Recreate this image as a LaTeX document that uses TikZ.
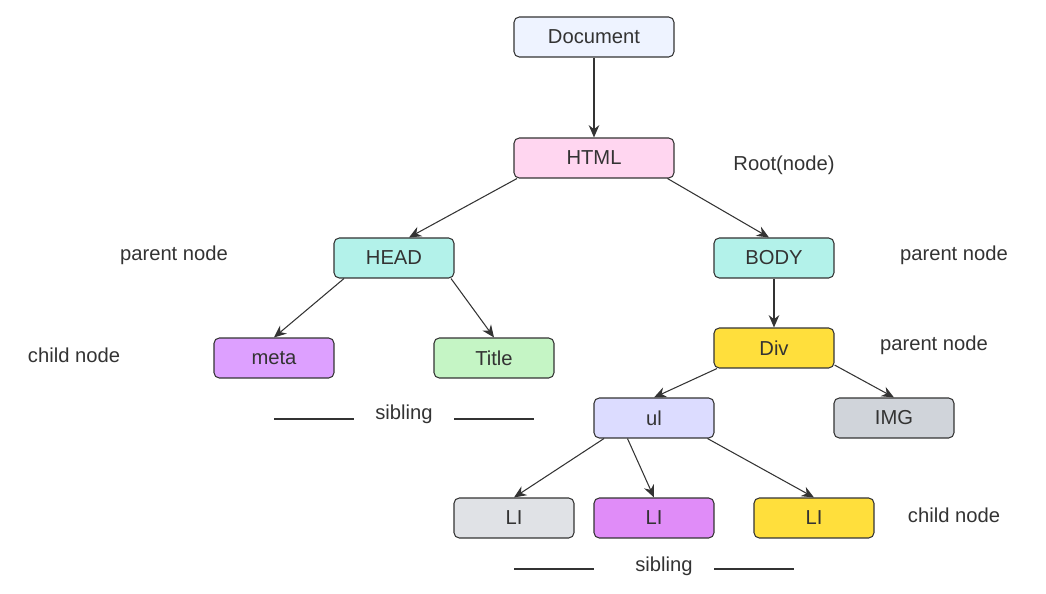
\documentclass[tikz,border=0pt]{standalone}
\usepackage{fontspec}
\setmainfont{Liberation Sans}
\usetikzlibrary{arrows.meta}
\definecolor{cdoc}{HTML}{EEF3FF}
\definecolor{chtml}{HTML}{FFD6F0}
\definecolor{cteal}{HTML}{B3F2EA}
\definecolor{cmeta}{HTML}{DDA0FF}
\definecolor{ctitle}{HTML}{C5F5C5}
\definecolor{cyel}{HTML}{FFDF3C}
\definecolor{cul}{HTML}{DCDCFF}
\definecolor{cimg}{HTML}{D0D4DA}
\definecolor{cli}{HTML}{E0E2E6}
\definecolor{clip}{HTML}{E08CF8}
\definecolor{ctxt}{HTML}{333333}
\begin{document}
\begin{tikzpicture}[x=0.02cm,y=-0.02cm,
  box/.style={draw=ctxt,line width=0.6pt,rounded corners=3pt,minimum width=2.4cm,minimum height=0.8cm,inner sep=0pt,text=ctxt,font=\fontsize{11.5}{13}\selectfont},
  lab/.style={text=ctxt,font=\fontsize{11.5}{13}\selectfont},
  arr/.style={draw=ctxt,line width=0.6pt,-{Stealth[length=7pt,width=6pt]}},
  sep/.style={draw=ctxt,line width=0.6pt}]
\useasboundingbox (0,0) rectangle (1046,594);
\node[box,fill=cdoc,minimum width=3.2cm] (doc) at (594,37) {Document};
\node[box,fill=chtml,minimum width=3.2cm] (html) at (594,158) {HTML};
\node[box,fill=cteal] (head) at (394,258) {HEAD};
\node[box,fill=cteal] (body) at (774,258) {BODY};
\node[box,fill=cmeta] (meta) at (274,358) {meta};
\node[box,fill=ctitle] (title) at (494,358) {Title};
\node[box,fill=cyel] (div) at (774,348) {Div};
\node[box,fill=cul] (ul) at (654,418) {ul};
\node[box,fill=cimg] (img) at (894,418) {IMG};
\node[box,fill=cli] (li1) at (514,518) {LI};
\node[box,fill=clip] (li2) at (654,518) {LI};
\node[box,fill=cyel] (li3) at (814,518) {LI};
\draw[arr] (doc.south) -- (html.north);
\draw[arr] ([xshift=2pt]html.south west) -- ([xshift=0.3cm]head.north);
\draw[arr] ([xshift=-4pt]html.south east) -- ([xshift=-0.1cm]body.north);
\draw[arr] ([xshift=6pt]head.south west) -- (meta.north);
\draw[arr] ([xshift=-2pt]head.south east) -- (title.north);
\draw[arr] (body.south) -- (div.north);
\draw[arr] ([xshift=2pt]div.south west) -- (ul.north);
\draw[arr] ([yshift=2pt]div.south east) -- (img.north);
\draw[arr] ([xshift=6pt]ul.south west) -- (li1.north);
\draw[arr] ([xshift=0.68cm]ul.south west) -- (li2.north);
\draw[arr] ([xshift=-4pt]ul.south east) -- (li3.north);
\node[lab] (r) at (784,165) {Root(node)};
\node[lab] (p1) at (174,255) {parent node};
\node[lab] (p2) at (954,255) {parent node};
\node[lab] (p3) at (934,345) {parent node};
\node[lab] (c1) at (74,355) {child node};
\node[lab] (c2) at (954,515) {child node};
\node[lab] (s1) at (404,414) {sibling};
\node[lab] (s2) at (664,566) {sibling};
\coordinate (a1) at (274,419); \coordinate (a2) at (354,419);
\coordinate (a3) at (454,419); \coordinate (a4) at (534,419);
\coordinate (b1) at (514,569); \coordinate (b2) at (594,569);
\coordinate (b3) at (714,569); \coordinate (b4) at (794,569);
\draw[sep] (a1) -- (a2); \draw[sep] (a3) -- (a4);
\draw[sep] (b1) -- (b2); \draw[sep] (b3) -- (b4);
\end{tikzpicture}
\end{document}
